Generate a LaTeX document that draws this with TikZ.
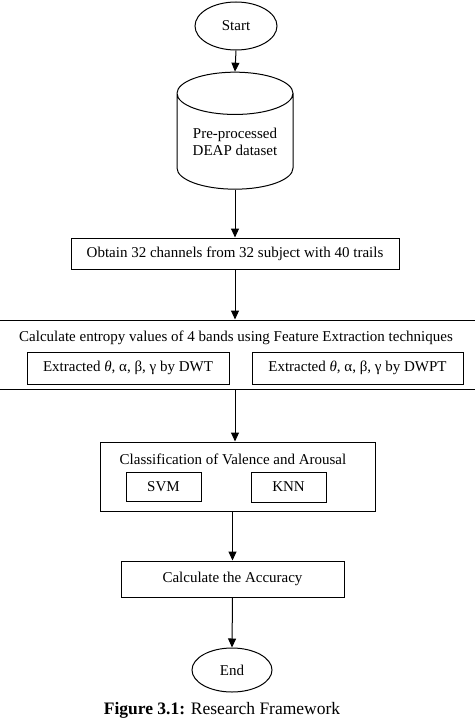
\documentclass[tikz,border=0pt]{standalone}
\usepackage{fontspec}
\setmainfont{Liberation Serif}
\usetikzlibrary{shapes.geometric,arrows.meta}

\begin{document}
\begin{tikzpicture}[x=1pt, y=-1pt,
    every node/.style={font=\fontsize{15}{17}\selectfont, align=center, inner sep=0pt},
    flowbox/.style={draw, line width=1pt},
    link/.style={-{Triangle[length=9pt,width=8pt]}, line width=1pt}]
    \useasboundingbox (0,0) rectangle (474,722);

    % Start
    \node[flowbox, ellipse, minimum width=82, minimum height=48] (start) at (236,26) {Start};

    % Dataset (cylinder)
    \node[flowbox, cylinder, shape border rotate=90, aspect=0.5,
        minimum width=116, minimum height=117] (data) at (235,141.5) {Pre-processed\\DEAP dataset};

    % Channels
    \node[flowbox, minimum width=328, minimum height=31] (chan) at (235,253.5)
        {Obtain 32 channels from 32 subject with 40 trails};

    % Feature extraction - box runs past the page edges
    \node[flowbox, minimum width=484, minimum height=69] (feat) at (237,354.5) {};
    \node (feattitle) at (236,338) {Calculate entropy values of 4 bands using Feature Extraction techniques};
    \node[flowbox, minimum width=202, minimum height=32] (dwt) at (128,368)
        {Extracted {\itshape θ}, α, β, γ by DWT};
    \node[flowbox, minimum width=211, minimum height=32] (dwpt) at (357.5,368)
        {Extracted {\itshape θ}, α, β, γ by DWPT};

    % Classification
    \node[flowbox, minimum width=275, minimum height=69] (cls) at (237.5,476.5) {};
    \node (clstitle) at (233,459) {Classification of Valence and Arousal};
    \node[flowbox, minimum width=75, minimum height=29] (svm) at (163.5,486.5) {SVM};
    \node[flowbox, minimum width=75, minimum height=30] (knn) at (288.5,487) {KNN};

    % Accuracy
    \node[flowbox, minimum width=223, minimum height=36] (acc) at (232.5,579) {Calculate the Accuracy};

    % End
    \node[flowbox, ellipse, minimum width=80, minimum height=44] (finish) at (232,670) {End};

    % Caption
    \node (caption) at (222,710) {\fontsize{17.5}{19}\selectfont\textbf{Figure 3.1:} Research Framework};

    % Arrows
    \draw[link] (start.south) -- (data.top);
    \draw[link] (data.bottom) -- (chan.north);
    \draw[link] (chan.south) -- (chan.south |- feat.north);
    \draw[link] (chan.south |- feat.south) -- (chan.south |- cls.north);
    \draw[link] (acc.north |- cls.south) -- (acc.north);
    \draw[link] (acc.south) -- (finish.north);
\end{tikzpicture}
\end{document}
